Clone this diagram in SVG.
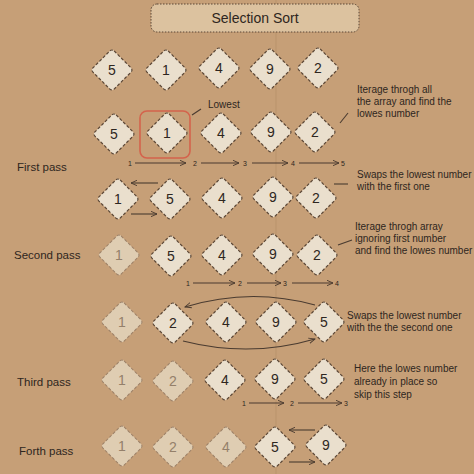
<svg xmlns="http://www.w3.org/2000/svg" width="474" height="474" viewBox="0 0 474 474">
<defs>
<style>
.bg{fill:#c69f77}
.d{fill:#eadfcd;stroke:#5a4636;stroke-width:1.2;stroke-dasharray:3 2}
.f{fill:#dfcdb2;stroke:#9c8168;stroke-width:1;stroke-dasharray:3 2}
.n{font-family:"Liberation Sans",sans-serif;font-size:14px;fill:#2e2620;text-anchor:middle;dominant-baseline:central}
.nf{font-family:"Liberation Sans",sans-serif;font-size:14px;fill:#94806a;text-anchor:middle;dominant-baseline:central}
.t{font-family:"Liberation Sans",sans-serif;font-size:10px;fill:#2e2620}
.lbl{font-family:"Liberation Sans",sans-serif;font-size:11.5px;fill:#2e2620}
.s{font-family:"Liberation Sans",sans-serif;font-size:7px;fill:#2e2620;text-anchor:middle;dominant-baseline:central}
.a{stroke:#4a3b30;stroke-width:1.1;fill:none;marker-end:url(#ah)}
.l{stroke:#4a3b30;stroke-width:1.1;fill:none}
</style>
<marker id="ah" viewBox="0 0 10 10" refX="9" refY="5" markerWidth="7" markerHeight="7" orient="auto-start-reverse" markerUnits="userSpaceOnUse">
<path d="M0,1 L9,5 L0,9" fill="none" stroke="#4a3b30" stroke-width="1.3"/>
</marker>
<rect id="dm" x="-15" y="-15" width="30" height="30" rx="3" transform="rotate(45)"/>
</defs>
<rect class="bg" x="0" y="0" width="474" height="474"/>
<line x1="276" y1="0" x2="276" y2="474" stroke="#b38d66" stroke-width="1" opacity="0.6"/>

<g id="title">
<rect x="151" y="4" width="208" height="28" rx="6" fill="#dcc29f" stroke="#5a4636" stroke-width="1" stroke-dasharray="1.5 1.5"/>
<text x="255" y="18" class="n" font-size="13">Selection Sort</text>
</g>

<g id="row1">
<g id="r1n1" transform="translate(112,70)"><use href="#dm" class="d"/><text class="n">5</text></g>
<g id="r1n2" transform="translate(166,70)"><use href="#dm" class="d"/><text class="n">1</text></g>
<g id="r1n3" transform="translate(219,68)"><use href="#dm" class="d"/><text class="n">4</text></g>
<g id="r1n4" transform="translate(270,69)"><use href="#dm" class="d"/><text class="n">9</text></g>
<g id="r1n5" transform="translate(318,68)"><use href="#dm" class="d"/><text class="n">2</text></g>
</g>

<g id="row2">
<rect x="140" y="111" width="50" height="47" rx="7" fill="none" stroke="#d4634c" stroke-width="1.6"/>
<g id="r2n1" transform="translate(114,134)"><use href="#dm" class="d"/><text class="n">5</text></g>
<g id="r2n2" transform="translate(167,133)"><use href="#dm" class="d"/><text class="n">1</text></g>
<g id="r2n3" transform="translate(221,133)"><use href="#dm" class="d"/><text class="n">4</text></g>
<g id="r2n4" transform="translate(271,132)"><use href="#dm" class="d"/><text class="n">9</text></g>
<g id="r2n5" transform="translate(315,132)"><use href="#dm" class="d"/><text class="n">2</text></g>
<text x="208" y="108" class="t" font-size="8.5">Lowest</text>
<text class="t" x="357" y="93">Iterage throgh all</text>
<text class="t" x="357" y="105">the array and find the</text>
<text class="t" x="357" y="117">lowes number</text>
<text class="lbl" x="17" y="171">First pass</text>
</g>

<g id="row3">
<g id="r3n1" transform="translate(118,199)"><use href="#dm" class="d"/><text class="n">1</text></g>
<g id="r3n2" transform="translate(170,199)"><use href="#dm" class="d"/><text class="n">5</text></g>
<g id="r3n3" transform="translate(222,198)"><use href="#dm" class="d"/><text class="n">4</text></g>
<g id="r3n4" transform="translate(273,197)"><use href="#dm" class="d"/><text class="n">9</text></g>
<g id="r3n5" transform="translate(316,198)"><use href="#dm" class="d"/><text class="n">2</text></g>
<text class="t" x="357" y="178">Swaps the lowest number</text>
<text class="t" x="357" y="190">with the first one</text>
</g>

<g id="row4">
<g id="r4n1" transform="translate(119,255)"><use href="#dm" class="f"/><text class="nf">1</text></g>
<g id="r4n2" transform="translate(171,256)"><use href="#dm" class="d"/><text class="n">5</text></g>
<g id="r4n3" transform="translate(222,255)"><use href="#dm" class="d"/><text class="n">4</text></g>
<g id="r4n4" transform="translate(273,254)"><use href="#dm" class="d"/><text class="n">9</text></g>
<g id="r4n5" transform="translate(317,255)"><use href="#dm" class="d"/><text class="n">2</text></g>
<text class="lbl" x="14" y="259">Second pass</text>
<text class="t" x="355" y="230" font-size="9.5">Iterage throgh array</text>
<text class="t" x="355" y="242" font-size="9.5">ignoring first number</text>
<text class="t" x="355" y="254" font-size="9.5">and find the lowes number</text>
</g>

<g id="row5">
<g id="r5n1" transform="translate(122,322)"><use href="#dm" class="f"/><text class="nf">1</text></g>
<g id="r5n2" transform="translate(173,323)"><use href="#dm" class="d"/><text class="n">2</text></g>
<g id="r5n3" transform="translate(226,322)"><use href="#dm" class="d"/><text class="n">4</text></g>
<g id="r5n4" transform="translate(276,322)"><use href="#dm" class="d"/><text class="n">9</text></g>
<g id="r5n5" transform="translate(324,322)"><use href="#dm" class="d"/><text class="n">5</text></g>
<text class="t" x="347" y="319">Swaps the lowest number</text>
<text class="t" x="347" y="331">with the the second one</text>
</g>

<g id="row6">
<g id="r6n1" transform="translate(122,380)"><use href="#dm" class="f"/><text class="nf">1</text></g>
<g id="r6n2" transform="translate(173,381)"><use href="#dm" class="f"/><text class="nf">2</text></g>
<g id="r6n3" transform="translate(225,380)"><use href="#dm" class="d"/><text class="n">4</text></g>
<g id="r6n4" transform="translate(275,379)"><use href="#dm" class="d"/><text class="n">9</text></g>
<g id="r6n5" transform="translate(324,379)"><use href="#dm" class="d"/><text class="n">5</text></g>
<text class="lbl" x="17" y="386">Third pass</text>
<text class="t" x="354" y="372">Here the lowes number</text>
<text class="t" x="354" y="385">already in place so</text>
<text class="t" x="354" y="398">skip this step</text>
</g>

<g id="row7">
<g id="r7n1" transform="translate(122,446)"><use href="#dm" class="f"/><text class="nf">1</text></g>
<g id="r7n2" transform="translate(173,447)"><use href="#dm" class="f"/><text class="nf">2</text></g>
<g id="r7n3" transform="translate(226,447)"><use href="#dm" class="f"/><text class="nf">4</text></g>
<g id="r7n4" transform="translate(275,447)"><use href="#dm" class="d"/><text class="n">5</text></g>
<g id="r7n5" transform="translate(326,445)"><use href="#dm" class="d"/><text class="n">9</text></g>
<text class="lbl" x="19" y="455">Forth pass</text>
</g>

<g id="connectors">
<line class="l" x1="192" y1="115" x2="201" y2="109"/>
<line class="l" x1="340" y1="123" x2="348" y2="113"/>
<text class="s" x="130" y="163">1</text>
<line class="a" x1="135" y1="163" x2="186" y2="163"/>
<text class="s" x="195" y="163">2</text>
<line class="a" x1="201" y1="163" x2="239" y2="163"/>
<text class="s" x="245" y="163">3</text>
<line class="a" x1="252" y1="163" x2="288" y2="163"/>
<text class="s" x="293" y="163">4</text>
<line class="a" x1="299" y1="163" x2="339" y2="163"/>
<text class="s" x="343" y="163">5</text>
<line class="a" x1="158" y1="183" x2="131" y2="183"/>
<line class="a" x1="131" y1="214" x2="157" y2="214"/>
<line class="l" x1="334" y1="184" x2="348" y2="184"/>
<line class="l" x1="338" y1="245" x2="352" y2="240"/>
<text class="s" x="188" y="283">1</text>
<line class="a" x1="193" y1="283" x2="235" y2="283"/>
<text class="s" x="240" y="283">2</text>
<line class="a" x1="247" y1="283" x2="281" y2="283"/>
<text class="s" x="285" y="283">3</text>
<line class="a" x1="292" y1="283" x2="333" y2="283"/>
<text class="s" x="337" y="283">4</text>
<path class="a" d="M315,305 Q250,287 185,307"/>
<path class="a" d="M183,341 Q250,358 315,339"/>
<text class="s" x="244" y="403">1</text>
<line class="a" x1="249" y1="403" x2="284" y2="403"/>
<text class="s" x="292" y="403">2</text>
<line class="a" x1="298" y1="403" x2="342" y2="403"/>
<text class="s" x="346" y="403">3</text>
<line class="a" x1="315" y1="430" x2="289" y2="430"/>
<line class="a" x1="289" y1="462" x2="315" y2="462"/>
</g>
</svg>
